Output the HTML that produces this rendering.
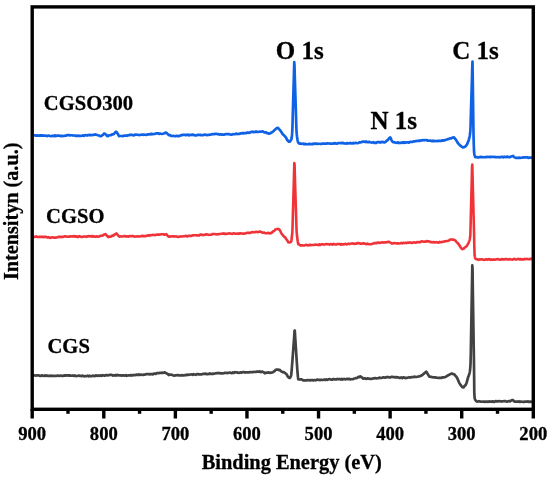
<!DOCTYPE html>
<html><head><meta charset="utf-8"><style>
html,body{margin:0;padding:0;background:#fff;}
svg{display:block;}
text{font-family:"Liberation Serif",serif;font-weight:bold;fill:#000;stroke:#000;stroke-width:0.3px;}
</style></head><body>
<svg width="550" height="477" viewBox="0 0 550 477">
<rect width="550" height="477" fill="#fff"/>
<g fill="none" stroke-linejoin="round" stroke-linecap="round" stroke-width="2.6">
<polyline stroke="#0f62e6" stroke-width="2.7" points="33.00,135.50 34.00,135.39 35.00,135.28 36.00,135.71 37.00,135.28 38.00,135.67 39.00,135.57 40.00,135.35 41.00,135.73 42.00,135.39 43.00,135.74 44.00,135.48 45.00,135.53 46.00,135.82 47.00,136.16 48.00,135.60 49.00,135.67 50.00,135.98 51.00,136.22 52.00,135.90 53.00,135.74 54.00,136.19 55.00,135.44 56.00,136.10 57.00,135.67 58.00,135.59 59.00,135.62 60.00,135.81 61.00,136.24 62.00,135.74 63.00,136.04 64.00,136.00 65.00,135.68 66.00,135.69 67.00,135.17 68.00,135.06 69.00,135.09 70.00,135.44 71.00,135.26 72.00,135.23 73.00,135.53 74.00,135.51 75.00,135.48 76.00,135.96 77.00,135.94 78.00,135.60 79.00,135.84 80.00,135.76 81.00,135.98 82.00,135.79 83.00,135.36 84.00,135.84 85.00,135.09 86.00,135.29 87.00,135.53 88.00,135.01 89.00,135.24 90.00,134.83 91.00,135.22 92.00,135.13 93.00,134.79 94.00,134.87 95.00,134.35 96.00,134.75 97.00,134.93 98.00,135.26 99.00,135.51 100.00,136.08 101.00,136.25 102.00,135.45 103.00,134.80 104.00,133.55 105.00,133.77 106.00,134.57 107.00,135.98 108.00,136.03 109.00,135.44 110.00,135.25 111.00,135.17 112.00,134.37 113.00,134.46 114.00,133.83 115.00,132.72 116.00,131.63 117.00,132.57 118.00,134.28 119.00,136.18 120.00,135.99 121.00,136.01 122.00,136.01 123.00,136.26 124.00,135.50 125.00,135.62 126.00,135.50 127.00,135.56 128.00,135.33 129.00,135.24 130.00,134.72 131.00,134.84 132.00,134.80 133.00,135.23 134.00,135.30 135.00,134.67 136.00,134.71 137.00,134.76 138.00,134.78 139.00,134.99 140.00,135.07 141.00,134.80 142.00,134.55 143.00,134.82 144.00,134.70 145.00,134.76 146.00,134.97 147.00,134.66 148.00,134.41 149.00,134.39 150.00,134.34 151.00,133.74 152.00,134.29 153.00,134.06 154.00,134.01 155.00,133.84 156.00,133.44 157.00,133.42 158.00,133.26 159.00,133.85 160.00,133.60 161.00,133.78 162.00,133.97 163.00,133.74 164.00,133.47 165.00,132.83 166.00,132.60 167.00,133.35 168.00,134.37 169.00,135.05 170.00,135.08 171.00,136.01 172.00,136.01 173.00,135.79 174.00,135.97 175.00,136.08 176.00,136.06 177.00,135.77 178.00,136.22 179.00,136.17 180.00,135.57 181.00,135.41 182.00,134.93 183.00,134.81 184.00,134.91 185.00,134.81 186.00,135.26 187.00,134.73 188.00,134.62 189.00,135.36 190.00,135.02 191.00,134.72 192.00,135.03 193.00,134.62 194.00,135.02 195.00,135.38 196.00,135.29 197.00,135.16 198.00,134.81 199.00,134.89 200.00,134.73 201.00,135.22 202.00,135.01 203.00,135.17 204.00,134.76 205.00,134.62 206.00,135.02 207.00,135.08 208.00,134.90 209.00,134.79 210.00,134.72 211.00,134.59 212.00,134.11 213.00,134.29 214.00,134.12 215.00,133.83 216.00,133.82 217.00,134.03 218.00,134.02 219.00,134.38 220.00,134.61 221.00,134.23 222.00,134.65 223.00,134.71 224.00,134.71 225.00,134.26 226.00,134.16 227.00,134.18 228.00,134.16 229.00,134.16 230.00,134.47 231.00,134.65 232.00,134.54 233.00,134.18 234.00,134.24 235.00,134.26 236.00,133.59 237.00,133.95 238.00,134.03 239.00,133.82 240.00,133.68 241.00,133.35 242.00,133.01 243.00,133.40 244.00,132.94 245.00,133.21 246.00,133.24 247.00,132.66 248.00,132.54 249.00,132.84 250.00,132.54 251.00,131.97 252.00,131.81 253.00,131.71 254.00,132.21 255.00,132.04 256.00,131.44 257.00,131.92 258.00,132.00 259.00,131.73 260.00,131.49 261.00,131.70 262.00,131.44 263.00,131.45 264.00,132.34 265.00,132.22 266.00,132.42 267.00,133.21 268.00,133.22 269.00,133.69 270.00,133.49 271.00,132.65 272.00,132.21 273.00,131.66 274.00,130.55 275.00,129.73 276.00,128.67 277.00,128.12 278.00,127.76 279.00,129.19 280.00,130.01 281.00,131.50 282.00,133.18 283.00,134.47 284.00,135.36 285.00,136.40 286.00,137.55 286.25,138.11 286.50,138.68 286.75,139.22 287.00,139.69 288.00,140.73 289.00,141.83 290.00,141.42 291.00,140.01 291.25,139.46 291.50,138.77 291.75,137.31 292.00,134.95 292.25,131.74 292.50,125.48 292.75,115.52 293.00,106.78 293.25,98.13 293.50,89.48 293.75,80.83 294.00,70.52 294.25,62.13 294.50,65.54 294.75,75.49 295.00,83.82 295.25,91.68 295.50,99.55 295.75,107.41 296.00,115.34 296.25,124.36 296.50,131.00 296.75,134.18 297.00,136.47 297.25,138.19 297.50,139.69 297.75,141.02 298.00,142.03 298.25,142.59 299.25,143.59 300.25,143.45 301.25,143.86 302.25,143.72 303.25,143.62 304.25,144.30 305.25,143.82 306.25,144.07 307.25,144.28 308.25,144.14 309.25,143.94 310.25,144.07 311.25,144.07 312.25,144.21 313.25,143.63 314.25,143.95 315.25,143.66 316.25,143.64 317.25,144.01 318.25,143.76 319.25,143.77 320.25,143.90 321.25,143.99 322.25,143.58 323.25,143.68 324.25,143.56 325.25,143.54 326.25,143.66 327.25,143.44 328.25,143.48 329.25,143.40 330.25,143.75 331.25,143.53 332.25,143.64 333.25,143.68 334.25,143.12 335.25,143.35 336.25,143.65 337.25,143.57 338.25,143.01 339.25,143.00 340.25,143.25 341.25,142.96 342.25,143.09 343.25,142.96 344.25,143.44 345.25,143.53 346.25,143.61 347.25,143.00 348.25,143.42 349.25,143.35 350.25,142.91 351.25,143.47 352.25,143.50 353.25,142.86 354.25,143.40 355.25,142.90 356.25,142.91 357.25,143.24 358.25,143.04 359.25,142.41 360.25,142.44 361.25,142.24 362.25,141.84 363.25,141.57 364.25,141.67 365.25,142.04 366.25,141.56 367.25,142.09 368.25,142.11 369.25,141.89 370.25,142.24 371.25,142.55 372.25,142.50 373.25,142.15 374.25,142.88 375.25,142.71 376.25,142.84 377.25,142.12 378.25,142.21 379.25,141.99 380.25,142.53 381.25,142.07 382.25,141.89 383.25,142.05 384.25,142.35 385.25,142.09 386.25,141.17 387.25,140.45 388.25,139.46 389.25,138.17 390.25,137.47 391.25,139.34 391.50,139.96 391.75,140.53 392.00,141.01 393.00,142.16 394.00,142.28 395.00,142.35 396.00,142.85 397.00,142.64 398.00,142.36 399.00,143.05 400.00,142.81 401.00,142.93 402.00,142.34 403.00,142.92 404.00,142.24 405.00,142.82 406.00,142.43 407.00,142.26 408.00,142.36 409.00,142.58 410.00,141.96 411.00,141.77 412.00,142.00 413.00,141.66 414.00,141.42 415.00,141.30 416.00,141.03 417.00,140.97 418.00,140.87 419.00,140.69 420.00,140.90 421.00,140.39 422.00,140.46 423.00,140.15 424.00,140.28 425.00,140.04 426.00,140.26 427.00,140.13 428.00,140.77 429.00,140.70 430.00,140.49 431.00,140.79 432.00,141.22 433.00,140.62 434.00,141.23 435.00,140.94 436.00,140.99 437.00,141.23 438.00,140.83 439.00,140.84 440.00,140.88 441.00,141.00 442.00,140.35 443.00,140.59 444.00,140.33 445.00,140.11 446.00,139.75 447.00,139.53 448.00,139.08 449.00,138.82 450.00,138.38 451.00,138.53 452.00,137.80 453.00,137.49 454.00,137.39 455.00,138.73 456.00,139.87 457.00,141.51 458.00,143.22 459.00,144.36 460.00,145.31 461.00,146.23 462.00,146.90 463.00,147.44 464.00,147.09 465.00,146.80 466.00,145.83 467.00,144.40 468.00,142.13 468.25,141.49 468.50,140.83 468.75,140.08 469.00,139.21 469.25,138.19 469.50,137.02 469.75,135.68 470.00,134.08 470.25,131.82 470.50,127.98 470.75,119.28 471.00,110.34 471.25,102.15 471.50,93.96 471.75,85.77 472.00,77.54 472.25,67.14 472.50,61.57 473.50,134.50 473.75,144.24 474.00,150.99 474.25,153.75 474.50,154.86 474.75,155.75 475.00,156.40 475.25,157.22 476.25,157.23 477.25,157.08 478.25,157.67 479.25,157.15 480.25,157.18 481.25,156.89 482.25,157.19 483.25,157.25 484.25,157.27 485.25,157.02 486.25,157.25 487.25,156.84 488.25,157.03 489.25,156.88 490.25,157.12 491.25,156.82 492.25,156.78 493.25,156.99 494.25,156.91 495.25,157.17 496.25,157.11 497.25,157.26 498.25,157.16 499.25,157.19 500.25,157.30 501.25,156.89 502.25,156.83 503.25,157.34 504.25,156.66 505.25,157.11 506.25,157.03 507.25,156.53 508.25,157.13 509.25,157.15 510.25,156.87 511.25,156.52 512.25,156.17 513.25,155.98 514.25,157.25 515.25,157.60 516.25,157.87 517.25,157.84 518.25,157.86 519.25,157.67 520.25,157.91 521.25,157.75 522.25,157.75 523.25,157.38 524.25,157.22 525.25,157.31 526.25,157.49 527.25,157.28 528.25,157.87 529.25,157.65 530.25,157.70 531.25,157.70 532.00,157.60"/>
<polyline stroke="#ef3338" stroke-width="2.6" points="33.30,236.70 34.30,236.86 35.30,236.73 36.30,236.36 37.30,237.02 38.30,237.01 39.30,236.85 40.30,236.91 41.30,237.04 42.30,236.62 43.30,237.21 44.30,236.90 45.30,236.83 46.30,237.06 47.30,237.50 48.30,237.14 49.30,237.63 50.30,237.86 51.30,237.49 52.30,237.40 53.30,237.46 54.30,237.59 55.30,237.61 56.30,237.43 57.30,237.38 58.30,236.85 59.30,236.84 60.30,236.85 61.30,237.17 62.30,236.76 63.30,236.92 64.30,236.42 65.30,236.40 66.30,236.51 67.30,236.77 68.30,236.73 69.30,236.66 70.30,236.31 71.30,236.45 72.30,236.38 73.30,236.37 74.30,236.10 75.30,236.73 76.30,236.21 77.30,236.86 78.30,236.87 79.30,236.17 80.30,236.57 81.30,236.89 82.30,237.04 83.30,236.65 84.30,236.51 85.30,236.44 86.30,236.93 87.30,236.21 88.30,236.38 89.30,235.94 90.30,236.22 91.30,236.59 92.30,235.98 93.30,236.58 94.30,236.40 95.30,236.75 96.30,236.65 97.30,236.29 98.30,236.79 99.30,236.38 100.30,235.90 101.30,235.72 102.30,235.67 103.30,235.07 104.30,234.45 105.30,234.11 106.30,234.96 107.30,236.18 108.30,237.17 109.30,236.40 110.30,236.76 111.30,236.51 112.30,235.57 113.30,235.70 114.30,234.74 115.30,234.19 116.30,233.44 117.30,234.46 118.30,235.66 119.30,236.62 120.30,236.56 121.30,236.39 122.30,236.43 123.30,236.29 124.30,236.08 125.30,236.10 126.30,236.66 127.30,236.19 128.30,236.69 129.30,236.11 130.30,236.11 131.30,236.29 132.30,236.02 133.30,236.15 134.30,236.60 135.30,236.53 136.30,236.46 137.30,236.31 138.30,236.52 139.30,236.53 140.30,236.19 141.30,236.31 142.30,235.75 143.30,236.26 144.30,235.98 145.30,236.14 146.30,235.95 147.30,235.55 148.30,235.24 149.30,235.81 150.30,235.04 151.30,235.18 152.30,234.96 153.30,234.81 154.30,235.07 155.30,235.19 156.30,234.57 157.30,234.83 158.30,234.49 159.30,234.65 160.30,234.47 161.30,234.25 162.30,234.20 163.30,234.21 164.30,234.74 165.30,234.40 166.30,234.18 167.30,235.26 168.30,236.37 169.30,236.63 170.30,236.41 171.30,236.45 172.30,236.36 173.30,236.55 174.30,236.33 175.30,236.43 176.30,236.42 177.30,236.65 178.30,236.88 179.30,236.74 180.30,236.45 181.30,236.42 182.30,236.46 183.30,236.29 184.30,236.19 185.30,235.90 186.30,235.99 187.30,236.45 188.30,235.68 189.30,235.89 190.30,235.89 191.30,235.99 192.30,235.38 193.30,235.34 194.30,235.24 195.30,235.28 196.30,235.24 197.30,235.56 198.30,235.40 199.30,235.35 200.30,234.60 201.30,234.54 202.30,235.02 203.30,235.11 204.30,234.72 205.30,234.75 206.30,234.23 207.30,234.49 208.30,234.86 209.30,234.73 210.30,234.71 211.30,234.75 212.30,234.12 213.30,233.96 214.30,233.94 215.30,234.17 216.30,234.24 217.30,234.38 218.30,234.14 219.30,234.03 220.30,234.06 221.30,233.77 222.30,233.80 223.30,233.36 224.30,233.94 225.30,233.49 226.30,234.04 227.30,233.82 228.30,233.54 229.30,233.40 230.30,233.50 231.30,233.81 232.30,233.86 233.30,233.39 234.30,233.36 235.30,233.72 236.30,233.77 237.30,233.61 238.30,233.48 239.30,233.77 240.30,233.26 241.30,233.43 242.30,233.48 243.30,233.79 244.30,233.44 245.30,233.53 246.30,233.09 247.30,232.78 248.30,232.67 249.30,233.13 250.30,232.82 251.30,232.41 252.30,232.06 253.30,232.30 254.30,232.30 255.30,231.97 256.30,231.72 257.30,231.97 258.30,232.14 259.30,231.64 260.30,231.67 261.30,232.13 262.30,232.39 263.30,232.80 264.30,232.62 265.30,233.26 266.30,233.29 267.30,233.10 268.30,232.86 269.30,233.48 270.30,232.95 271.30,233.23 272.30,232.13 273.30,231.30 274.30,230.87 275.30,229.42 276.30,229.29 277.30,228.97 278.30,229.00 279.30,229.47 280.30,231.01 280.55,231.59 280.80,232.19 281.05,232.78 281.30,233.30 282.30,234.55 283.30,235.66 284.30,236.83 285.30,237.50 286.30,239.23 287.30,240.41 288.30,242.34 289.30,242.55 290.30,242.30 291.30,241.47 292.30,232.74 292.55,227.04 292.80,217.41 293.05,208.48 293.30,199.81 293.55,191.15 293.80,182.49 294.05,172.74 294.30,162.95 294.55,163.93 294.80,173.36 295.05,182.18 295.30,190.05 295.55,197.93 295.80,205.80 296.05,213.68 296.30,222.52 296.55,230.07 296.80,233.74 297.05,236.26 297.30,238.20 297.55,240.04 297.80,241.77 298.05,243.18 298.30,244.05 298.55,243.97 299.55,244.83 300.55,245.42 301.55,245.41 302.55,245.29 303.55,245.50 304.55,245.45 305.55,244.96 306.55,244.85 307.55,245.45 308.55,245.30 309.55,244.73 310.55,245.23 311.55,245.00 312.55,245.00 313.55,244.96 314.55,244.79 315.55,244.60 316.55,244.75 317.55,244.72 318.55,245.12 319.55,244.36 320.55,244.94 321.55,244.25 322.55,244.29 323.55,244.61 324.55,244.57 325.55,244.25 326.55,243.94 327.55,244.28 328.55,244.20 329.55,244.64 330.55,244.05 331.55,244.19 332.55,244.62 333.55,243.92 334.55,244.23 335.55,244.55 336.55,244.51 337.55,243.93 338.55,243.93 339.55,243.94 340.55,244.61 341.55,244.05 342.55,244.41 343.55,244.49 344.55,244.00 345.55,243.90 346.55,244.40 347.55,244.07 348.55,243.73 349.55,244.04 350.55,243.67 351.55,243.58 352.55,243.29 353.55,243.81 354.55,243.85 355.55,243.54 356.55,243.72 357.55,242.94 358.55,243.09 359.55,243.30 360.55,243.72 361.55,243.78 362.55,243.41 363.55,243.39 364.55,243.62 365.55,243.76 366.55,244.19 367.55,243.66 368.55,244.21 369.55,244.19 370.55,244.24 371.55,244.09 372.55,243.78 373.55,243.34 374.55,243.13 375.55,242.98 376.55,243.22 377.55,242.59 378.55,242.65 379.55,243.06 380.55,242.62 381.55,242.43 382.55,242.34 383.55,242.62 384.55,242.20 385.55,242.45 386.55,242.14 387.55,242.10 388.55,241.68 389.55,242.12 390.55,242.76 391.55,243.40 392.55,243.56 393.55,243.34 394.55,243.15 395.55,243.27 396.55,243.40 397.55,243.40 398.55,243.42 399.55,243.46 400.55,243.28 401.55,242.81 402.55,243.35 403.55,242.87 404.55,243.05 405.55,242.86 406.55,243.11 407.55,242.63 408.55,242.63 409.55,242.58 410.55,242.46 411.55,242.99 412.55,242.68 413.55,242.42 414.55,242.41 415.55,242.81 416.55,242.30 417.55,241.95 418.55,242.27 419.55,241.99 420.55,242.12 421.55,241.29 422.55,241.48 423.55,241.69 424.55,241.67 425.55,241.75 426.55,241.11 427.55,241.41 428.55,241.37 429.55,241.52 430.55,242.22 431.55,241.99 432.55,242.36 433.55,242.00 434.55,242.48 435.55,242.21 436.55,242.10 437.55,242.52 438.55,242.63 439.55,241.90 440.55,242.21 441.55,242.13 442.55,241.70 443.55,241.70 444.55,241.36 445.55,241.18 446.55,240.96 447.55,240.96 448.55,240.72 449.55,240.00 450.55,239.47 451.55,239.44 452.55,239.66 453.55,239.53 454.55,240.07 455.55,240.68 456.55,242.13 457.55,243.02 458.55,243.99 459.55,245.48 460.55,247.19 461.55,248.55 462.55,249.12 463.55,248.81 464.55,247.70 465.55,246.96 466.55,246.22 467.55,244.62 468.55,242.80 468.80,242.21 469.05,241.54 469.30,240.83 469.55,240.05 469.80,239.03 470.05,237.58 470.30,235.50 470.55,227.57 470.80,216.47 471.05,206.96 471.30,197.45 471.55,187.93 471.80,178.04 472.05,166.24 472.30,164.62 472.55,175.51 472.80,185.87 473.05,195.32 473.30,204.77 473.55,214.22 473.80,223.48 474.05,232.93 474.30,246.15 474.55,254.45 474.80,256.28 475.05,257.53 475.30,258.32 475.55,258.68 476.55,259.25 477.55,259.35 478.55,259.86 479.55,259.35 480.55,259.55 481.55,259.39 482.55,259.43 483.55,259.79 484.55,259.90 485.55,259.39 486.55,259.26 487.55,259.68 488.55,259.26 489.55,259.10 490.55,259.82 491.55,259.43 492.55,259.75 493.55,259.41 494.55,259.78 495.55,259.43 496.55,259.17 497.55,259.04 498.55,259.46 499.55,259.52 500.55,259.72 501.55,259.05 502.55,259.47 503.55,259.25 504.55,259.35 505.55,259.05 506.55,259.14 507.55,259.32 508.55,259.63 509.55,258.96 510.55,259.25 511.55,259.49 512.55,259.61 513.55,258.98 514.55,258.91 515.55,259.55 516.55,259.56 517.55,259.15 518.55,258.80 519.55,259.48 520.55,259.04 521.55,259.44 522.55,259.20 523.55,259.36 524.55,258.81 525.55,259.30 526.55,258.84 527.55,258.97 528.55,259.32 529.55,259.29 530.55,258.76 531.55,258.78 532.00,259.00"/>
<polyline stroke="#424242" stroke-width="2.7" points="33.80,375.50 34.80,375.44 35.80,375.55 36.80,375.46 37.80,375.27 38.80,375.39 39.80,375.79 40.80,375.94 41.80,375.27 42.80,375.71 43.80,375.88 44.80,375.33 45.80,375.99 46.80,375.43 47.80,375.84 48.80,375.83 49.80,375.91 50.80,375.68 51.80,375.79 52.80,375.94 53.80,375.83 54.80,376.03 55.80,375.86 56.80,375.84 57.80,375.48 58.80,375.92 59.80,375.77 60.80,375.53 61.80,375.91 62.80,375.88 63.80,375.59 64.80,375.35 65.80,375.58 66.80,375.29 67.80,375.33 68.80,375.59 69.80,375.35 70.80,375.66 71.80,375.75 72.80,375.40 73.80,375.90 74.80,375.47 75.80,376.00 76.80,376.05 77.80,375.85 78.80,375.49 79.80,375.86 80.80,375.77 81.80,376.24 82.80,375.59 83.80,376.18 84.80,376.29 85.80,376.08 86.80,376.15 87.80,375.65 88.80,376.28 89.80,375.87 90.80,376.23 91.80,376.17 92.80,375.55 93.80,376.02 94.80,376.10 95.80,375.38 96.80,375.58 97.80,375.87 98.80,375.36 99.80,375.92 100.80,375.40 101.80,375.79 102.80,375.22 103.80,375.47 104.80,375.76 105.80,375.15 106.80,375.15 107.80,375.31 108.80,375.12 109.80,374.87 110.80,374.96 111.80,374.93 112.80,375.55 113.80,375.35 114.80,375.53 115.80,374.96 116.80,375.48 117.80,374.96 118.80,375.32 119.80,375.43 120.80,375.23 121.80,375.66 122.80,375.42 123.80,375.45 124.80,375.70 125.80,375.08 126.80,375.78 127.80,375.47 128.80,375.24 129.80,375.52 130.80,375.05 131.80,375.57 132.80,375.18 133.80,374.94 134.80,375.20 135.80,374.88 136.80,374.61 137.80,375.01 138.80,374.41 139.80,374.98 140.80,374.49 141.80,374.76 142.80,374.99 143.80,374.63 144.80,374.65 145.80,374.33 146.80,374.03 147.80,374.01 148.80,374.05 149.80,374.36 150.80,374.15 151.80,374.14 152.80,374.36 153.80,373.64 154.80,373.60 155.80,373.82 156.80,373.19 157.80,373.05 158.80,373.20 159.80,372.89 160.80,372.95 161.80,372.69 162.80,372.83 163.80,372.72 164.80,372.36 165.80,372.96 166.80,373.52 167.80,373.98 168.80,375.05 169.80,374.64 170.80,374.69 171.80,374.76 172.80,375.29 173.80,375.56 174.80,375.55 175.80,375.29 176.80,375.20 177.80,375.01 178.80,375.51 179.80,375.41 180.80,375.21 181.80,375.39 182.80,375.17 183.80,375.50 184.80,375.27 185.80,374.81 186.80,375.26 187.80,374.50 188.80,374.82 189.80,374.66 190.80,374.47 191.80,374.28 192.80,374.81 193.80,374.15 194.80,374.53 195.80,374.80 196.80,374.11 197.80,374.11 198.80,374.39 199.80,374.26 200.80,374.33 201.80,374.42 202.80,373.86 203.80,373.92 204.80,373.87 205.80,373.62 206.80,374.24 207.80,374.11 208.80,374.01 209.80,373.40 210.80,374.02 211.80,373.90 212.80,373.63 213.80,373.80 214.80,373.52 215.80,373.29 216.80,373.14 217.80,373.18 218.80,372.97 219.80,373.15 220.80,373.42 221.80,373.31 222.80,373.37 223.80,373.21 224.80,372.79 225.80,372.97 226.80,372.83 227.80,373.06 228.80,372.81 229.80,372.57 230.80,372.84 231.80,373.07 232.80,372.44 233.80,372.94 234.80,372.22 235.80,372.38 236.80,372.32 237.80,372.69 238.80,372.81 239.80,372.61 240.80,372.24 241.80,372.64 242.80,372.15 243.80,372.04 244.80,372.53 245.80,372.27 246.80,372.29 247.80,372.23 248.80,372.44 249.80,372.00 250.80,372.25 251.80,372.10 252.80,372.18 253.80,371.81 254.80,372.00 255.80,371.84 256.80,371.60 257.80,371.50 258.80,371.81 259.80,371.36 260.80,372.04 261.80,371.63 262.80,371.89 263.80,372.34 264.80,373.27 265.80,372.87 266.80,372.69 267.80,372.54 268.80,372.46 269.80,372.86 270.80,372.67 271.80,372.54 272.80,372.38 273.80,371.46 274.80,370.94 275.80,369.72 276.80,369.48 277.80,369.57 278.80,370.03 279.80,369.91 280.80,371.09 281.80,371.65 282.80,372.24 283.80,372.19 284.80,372.95 285.80,373.61 286.80,374.57 287.80,376.55 288.80,377.64 289.80,377.89 290.80,376.39 291.05,375.74 291.30,374.21 291.55,371.69 291.80,368.56 292.05,365.21 292.30,362.00 292.55,358.78 292.80,355.35 293.05,352.00 293.30,348.67 293.55,345.33 293.80,342.00 294.05,338.67 294.30,334.74 294.55,330.87 294.80,330.53 295.05,334.74 295.30,339.14 295.55,342.95 295.80,346.76 296.05,350.57 296.30,354.38 296.55,358.22 296.80,362.00 297.05,365.81 297.30,369.50 297.55,372.56 297.80,375.50 298.05,377.99 298.30,379.36 299.30,379.53 300.30,379.39 301.30,379.40 302.30,379.68 303.30,380.52 304.30,380.31 305.30,380.45 306.30,380.51 307.30,380.13 308.30,380.24 309.30,380.18 310.30,380.44 311.30,380.08 312.30,379.98 313.30,380.45 314.30,380.04 315.30,380.28 316.30,380.06 317.30,379.56 318.30,379.84 319.30,379.83 320.30,380.07 321.30,379.70 322.30,379.96 323.30,379.80 324.30,379.51 325.30,380.00 326.30,379.34 327.30,379.89 328.30,379.32 329.30,379.14 330.30,379.25 331.30,379.65 332.30,379.78 333.30,378.95 334.30,379.30 335.30,379.26 336.30,379.48 337.30,378.96 338.30,379.19 339.30,379.07 340.30,379.44 341.30,378.98 342.30,379.52 343.30,378.99 344.30,378.93 345.30,379.31 346.30,379.15 347.30,378.83 348.30,379.24 349.30,378.79 350.30,379.34 351.30,379.24 352.30,379.22 353.30,378.93 354.30,378.50 355.30,378.30 356.30,378.03 357.30,377.97 358.30,376.80 359.30,377.07 360.30,376.40 361.30,377.02 362.30,377.70 363.30,378.67 364.30,378.46 365.30,378.44 366.30,378.90 367.30,378.43 368.30,378.65 369.30,378.72 370.30,378.90 371.30,378.87 372.30,378.72 373.30,378.40 374.30,378.29 375.30,378.05 376.30,378.50 377.30,378.26 378.30,378.25 379.30,377.71 380.30,377.83 381.30,378.01 382.30,377.76 383.30,377.30 384.30,377.48 385.30,377.74 386.30,377.15 387.30,377.05 388.30,377.09 389.30,377.38 390.30,377.48 391.30,376.93 392.30,376.95 393.30,377.06 394.30,377.17 395.30,377.38 396.30,377.15 397.30,377.34 398.30,377.29 399.30,377.97 400.30,377.82 401.30,377.35 402.30,378.06 403.30,377.38 404.30,377.60 405.30,378.06 406.30,377.89 407.30,377.80 408.30,377.52 409.30,377.29 410.30,377.59 411.30,377.09 412.30,377.07 413.30,377.08 414.30,376.66 415.30,376.81 416.30,376.98 417.30,376.77 418.30,376.48 419.30,376.42 420.30,376.07 421.30,375.49 422.30,375.15 423.30,374.09 424.30,373.33 425.30,372.35 426.30,371.76 427.30,373.33 428.30,374.98 429.30,376.58 430.30,376.80 431.30,376.75 432.30,377.21 433.30,377.38 434.30,377.36 435.30,377.40 436.30,377.69 437.30,377.77 438.30,377.94 439.30,377.93 440.30,377.84 441.30,378.00 442.30,377.38 443.30,377.37 444.30,377.33 445.30,376.91 446.30,376.46 447.30,375.78 448.30,375.34 449.30,374.68 450.30,374.16 451.30,373.54 452.30,373.66 453.30,374.21 454.30,374.29 455.30,375.55 456.30,376.67 457.30,378.27 457.55,378.83 457.80,379.41 458.05,380.01 458.30,380.61 458.55,381.21 458.80,381.80 459.05,382.36 459.30,382.88 459.55,383.37 460.55,384.91 461.55,386.24 462.55,387.15 463.55,387.39 464.55,385.92 465.55,385.22 466.55,382.98 466.80,382.12 467.05,381.20 467.30,380.25 467.55,379.30 467.80,378.39 468.05,377.54 468.30,376.80 468.55,376.14 468.80,375.49 469.05,374.80 469.30,373.98 469.55,373.00 469.80,371.77 470.05,370.12 470.30,367.36 470.55,363.07 470.80,353.05 471.05,337.32 471.30,323.62 471.55,309.91 471.80,296.20 472.05,281.54 472.30,265.47 472.55,269.11 472.80,288.73 473.05,304.62 473.30,320.51 473.55,336.40 473.80,351.65 474.05,369.59 474.30,393.00 474.55,396.83 474.80,398.94 475.05,399.40 476.05,400.95 477.05,401.65 478.05,401.51 479.05,401.20 480.05,401.59 481.05,401.58 482.05,401.73 483.05,401.58 484.05,401.69 485.05,401.85 486.05,401.61 487.05,401.52 488.05,401.96 489.05,401.37 490.05,401.75 491.05,401.51 492.05,401.80 493.05,401.27 494.05,401.94 495.05,401.41 496.05,401.14 497.05,401.29 498.05,401.36 499.05,401.03 500.05,401.33 501.05,401.32 502.05,401.53 503.05,401.24 504.05,401.16 505.05,401.11 506.05,401.51 507.05,401.65 508.05,401.29 509.05,401.01 510.05,401.44 511.05,400.72 512.05,400.05 513.05,400.06 514.05,401.29 515.05,401.75 516.05,401.64 517.05,401.53 518.05,401.63 519.05,401.38 520.05,401.99 521.05,401.52 522.05,401.76 523.05,401.91 524.05,401.92 525.05,401.65 526.05,401.52 527.05,401.73 528.05,401.39 529.05,401.96 530.05,401.58 531.05,401.98 532.00,401.70"/>
</g>
<rect x="32.2" y="6.9" width="501.1" height="402.4" fill="none" stroke="#000" stroke-width="3.4"/>
<g stroke="#000" stroke-width="3.4">
<line x1="533.30" y1="409" x2="533.30" y2="418.5"/>
<line x1="497.51" y1="409" x2="497.51" y2="413.8"/>
<line x1="461.71" y1="409" x2="461.71" y2="418.5"/>
<line x1="425.92" y1="409" x2="425.92" y2="413.8"/>
<line x1="390.13" y1="409" x2="390.13" y2="418.5"/>
<line x1="354.34" y1="409" x2="354.34" y2="413.8"/>
<line x1="318.54" y1="409" x2="318.54" y2="418.5"/>
<line x1="282.75" y1="409" x2="282.75" y2="413.8"/>
<line x1="246.96" y1="409" x2="246.96" y2="418.5"/>
<line x1="211.16" y1="409" x2="211.16" y2="413.8"/>
<line x1="175.37" y1="409" x2="175.37" y2="418.5"/>
<line x1="139.58" y1="409" x2="139.58" y2="413.8"/>
<line x1="103.79" y1="409" x2="103.79" y2="418.5"/>
<line x1="67.99" y1="409" x2="67.99" y2="413.8"/>
<line x1="32.20" y1="409" x2="32.20" y2="418.5"/>
</g>
<g font-size="18.6">
<text x="533.30" y="439.6" text-anchor="middle">200</text>
<text x="461.71" y="439.6" text-anchor="middle">300</text>
<text x="390.13" y="439.6" text-anchor="middle">400</text>
<text x="318.54" y="439.6" text-anchor="middle">500</text>
<text x="246.96" y="439.6" text-anchor="middle">600</text>
<text x="175.37" y="439.6" text-anchor="middle">700</text>
<text x="103.79" y="439.6" text-anchor="middle">800</text>
<text x="32.20" y="439.6" text-anchor="middle">900</text>
</g>
<text x="201.7" y="468.8" font-size="20.4">Binding Energy (eV)</text>
<text transform="translate(18.2,280) rotate(-90)" font-size="20.2">Intensityn (a.u.)</text>
<g font-size="20.6">
<text x="43.8" y="109.7">CGSO300</text>
<text x="46.1" y="223.2">CGSO</text>
<text x="47.5" y="353.1">CGS</text>
</g>
<g font-size="25">
<text x="275.7" y="58.6">O 1s</text>
<text x="452.3" y="58.8">C 1s</text>
<text x="370.4" y="128.9">N 1s</text>
</g>
</svg>
</body></html>
